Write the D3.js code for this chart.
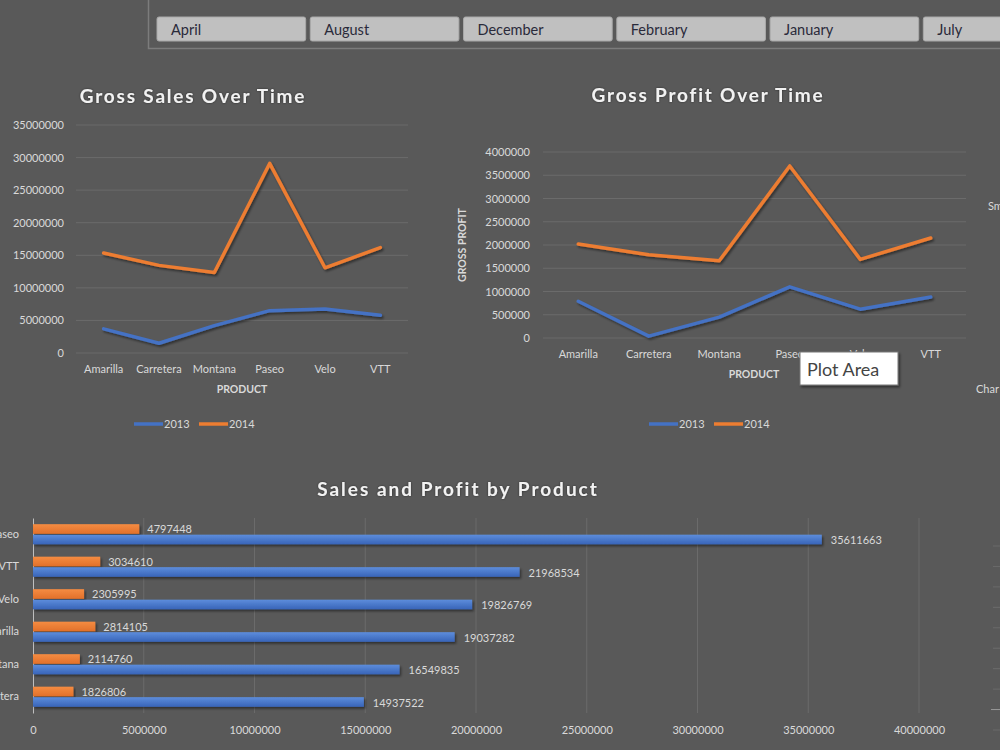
<!DOCTYPE html>
<html>
<head>
<meta charset="utf-8">
<script src="https://cdn.jsdelivr.net/npm/d3@7"></script>
<style>
  body { margin: 0; background: #595959; }
  #chart { width: 1000px; height: 750px; }
  text { font-family: Lato, "Open Sans", sans-serif; }
</style>
</head>
<body>
<div id="chart"></div>
<script>
// data
const products = ["Amarilla", "Carretera", "Montana", "Paseo", "Velo", "VTT"];
const years = ["2013", "2014"];
const sales2013 = [3700000, 1500000, 4200000, 6500000, 6750000, 5800000];
const sales2014 = [15350000, 13450000, 12350000, 29100000, 13080000, 16170000];
const profit2013 = [790000, 40000, 450000, 1100000, 620000, 880000];
const profit2014 = [2020000, 1790000, 1660000, 3700000, 1690000, 2150000];

const barProducts = ["Paseo", "VTT", "Velo", "Amarilla", "Montana", "Carretera"];
const barSales = [35611663, 21968534, 19826769, 19037282, 16549835, 14937522];
const barProfit = [4797448, 3034610, 2305995, 2814105, 2114760, 1826806];

const months = ["April", "August", "December", "February", "January", "July"];

const blue = "#4472c4";
const orange = "#ed7d31";
const labelColor = "#d9d9d9";
const gridColor = "#6b6b6b";

const svg = d3.select("#chart").append("svg")
  .attr("width", 1000).attr("height", 750);

const defs = svg.append("defs");
const shadow = defs.append("filter").attr("id", "shadow")
  .attr("x", "-5%").attr("y", "-30%").attr("width", "110%").attr("height", "180%");
shadow.append("feDropShadow").attr("dx", 1.5).attr("dy", 2).attr("stdDeviation", 1.2)
  .attr("flood-color", "#000").attr("flood-opacity", 0.45);
const glow = defs.append("filter").attr("id", "glow");
glow.append("feDropShadow").attr("dx", 0).attr("dy", 0).attr("stdDeviation", 1)
  .attr("flood-color", "#000").attr("flood-opacity", 0.5);
const grad = defs.append("linearGradient").attr("id", "blueGrad")
  .attr("x1", 0).attr("y1", 0).attr("x2", 0).attr("y2", 1);
grad.append("stop").attr("offset", "0%").attr("stop-color", "#5d8ddc");
grad.append("stop").attr("offset", "100%").attr("stop-color", "#3864b8");
const grad2 = defs.append("linearGradient").attr("id", "orangeGrad")
  .attr("x1", 0).attr("y1", 0).attr("x2", 0).attr("y2", 1);
grad2.append("stop").attr("offset", "0%").attr("stop-color", "#f58c42");
grad2.append("stop").attr("offset", "100%").attr("stop-color", "#e2702a");

// ---- slicer at the top
const slicer = svg.append("g");
slicer.append("path")
  .attr("d", "M148.5,0 V48.5 H1000")
  .attr("fill", "none").attr("stroke", "#7c7c7c").attr("stroke-width", 1.5);
const btnX = d3.scaleBand().domain(months).range([157, 157 + 6 * 152.5]).paddingInner(0.03);
months.forEach((m) => {
  const g = slicer.append("g").attr("transform", `translate(${btnX(m)},17)`);
  g.append("rect").attr("width", btnX.bandwidth()).attr("height", 24).attr("rx", 2)
    .attr("fill", "#c0c0c0").attr("stroke", "#a9a9a9");
  g.append("text").attr("x", 14).attr("y", 18)
    .attr("font-family", "'Liberation Sans', Arial, sans-serif")
    .attr("font-size", 14.5).attr("fill", "#2a2a3a").text(m);
});

// ---- line charts
function lineChart(cfg) {
  const g = svg.append("g");
  const x = d3.scaleBand().domain(products).range([cfg.left, cfg.right]);
  const y = d3.scaleLinear().domain([0, cfg.max]).range([cfg.bottom, cfg.top]);

  g.append("g").selectAll("line").data(y.ticks(cfg.tickCount)).join("line")
    .attr("x1", cfg.left).attr("x2", cfg.right)
    .attr("y1", (d) => y(d)).attr("y2", (d) => y(d))
    .attr("stroke", gridColor);

  const yAxis = g.append("g").attr("transform", `translate(${cfg.left},0)`)
    .call(d3.axisLeft(y).ticks(cfg.tickCount).tickSize(0).tickPadding(cfg.left - cfg.tickEnd).tickFormat(d3.format("d")));
  yAxis.select(".domain").remove();
  yAxis.selectAll("text").attr("fill", labelColor).attr("font-size", 11).attr("font-family", "Lato, sans-serif");

  const xAxis = g.append("g").attr("transform", `translate(0,${cfg.bottom})`)
    .call(d3.axisBottom(x).tickSize(0).tickPadding(cfg.catPad));
  xAxis.select(".domain").remove();
  xAxis.selectAll("text").attr("fill", labelColor).attr("font-size", 11).attr("font-family", "Lato, sans-serif");

  const line = d3.line().x((d, i) => x(products[i]) + x.bandwidth() / 2).y((d) => y(d));
  [[cfg.s2013, blue], [cfg.s2014, orange]].forEach(([vals, c]) => {
    g.append("path").datum(vals).attr("d", line)
      .attr("fill", "none").attr("stroke", c).attr("stroke-width", 3.5)
      .attr("stroke-linejoin", "round").attr("stroke-linecap", "round")
      .attr("filter", "url(#shadow)");
  });

  g.append("text").attr("x", cfg.titleX).attr("y", cfg.titleY).attr("text-anchor", "middle")
    .attr("font-size", 19).attr("font-weight", 700).attr("letter-spacing", 1.8)
    .attr("fill", "#f2f2f2").attr("filter", "url(#glow)").text(cfg.title);

  g.append("text").attr("x", cfg.prodX).attr("y", cfg.prodY).attr("text-anchor", "middle")
    .attr("font-size", 10.5).attr("font-weight", 700).attr("fill", labelColor).text("PRODUCT");

  if (cfg.yTitle) {
    g.append("text").attr("transform", `translate(${cfg.yTitleX},${cfg.yTitleY}) rotate(-90)`)
      .attr("text-anchor", "middle").attr("font-size", 10.5).attr("font-weight", 700)
      .attr("fill", labelColor).text(cfg.yTitle);
  }

  // legend
  const lg = g.append("g").attr("transform", `translate(${cfg.legendX},${cfg.legendY})`);
  years.forEach((yr, i) => {
    const c = i === 0 ? blue : orange;
    lg.append("line").attr("x1", i * 65).attr("x2", i * 65 + 29)
      .attr("stroke", c).attr("stroke-width", 3.5);
    lg.append("text").attr("x", i * 65 + 30).attr("y", 4).attr("font-size", 11)
      .attr("fill", labelColor).text(yr);
  });
}

lineChart({
  title: "Gross Sales Over Time", titleX: 193, titleY: 103,
  left: 76, right: 408, top: 125, bottom: 353, tickEnd: 64, catPad: 12,
  max: 35000000, tickCount: 7,
  s2013: sales2013, s2014: sales2014,
  prodX: 242, prodY: 393, legendX: 134, legendY: 424
});

lineChart({
  title: "Gross Profit Over Time", titleX: 708, titleY: 102,
  left: 543, right: 966, top: 152, bottom: 338, tickEnd: 530, catPad: 12,
  max: 4000000, tickCount: 8,
  s2013: profit2013, s2014: profit2014,
  prodX: 754, prodY: 378, legendX: 649, legendY: 424,
  yTitle: "GROSS PROFIT", yTitleX: 466, yTitleY: 245
});

// "Plot Area" hover tooltip
const tip = svg.append("g").attr("transform", "translate(800,352)");
tip.append("rect").attr("width", 98).attr("height", 33)
  .attr("fill", "#ffffff").attr("stroke", "#777").attr("filter", "url(#shadow)");
tip.append("text").attr("x", 7).attr("y", 23.5)
  .attr("font-family", "'Open Sans', 'Noto Sans', sans-serif")
  .attr("font-size", 18).attr("fill", "#444").text("Plot Area");

// ---- horizontal bar chart
const bx = d3.scaleLinear().domain([0, 40000000]).range([33, 919]);
const by = d3.scaleBand().domain(barProducts).range([518, 713]).paddingInner(0.38).paddingOuter(0.19);
const sub = d3.scaleBand().domain(["profit", "sales"]).range([0, by.bandwidth()]).paddingInner(0.08);
const bar = svg.append("g");

bar.append("g").selectAll("line").data(bx.ticks(8).filter((d) => d > 0)).join("line")
  .attr("x1", (d) => bx(d)).attr("x2", (d) => bx(d))
  .attr("y1", 518).attr("y2", 713).attr("stroke", gridColor);

const bxAxis = bar.append("g").attr("transform", "translate(0,713)")
  .call(d3.axisBottom(bx).ticks(8).tickSize(0).tickPadding(13).tickFormat(d3.format("d")));
bxAxis.select(".domain").remove();
bxAxis.selectAll("text").attr("fill", labelColor).attr("font-size", 11).attr("font-family", "Lato, sans-serif");

const byAxis = bar.append("g").attr("transform", "translate(33,0)")
  .call(d3.axisLeft(by).tickSize(0).tickPadding(14));
byAxis.select(".domain").attr("stroke", "#bfbfbf");
byAxis.selectAll("text").attr("fill", labelColor).attr("font-size", 11).attr("font-family", "Lato, sans-serif");

const rows = bar.append("g").selectAll("g").data(barProducts).join("g")
  .attr("transform", (d) => `translate(0,${by(d)})`);

rows.append("rect").attr("x", bx(0)).attr("y", sub("profit"))
  .attr("width", (d, i) => bx(barProfit[i]) - bx(0)).attr("height", sub.bandwidth())
  .attr("fill", "url(#orangeGrad)").attr("filter", "url(#shadow)");
rows.append("rect").attr("x", bx(0)).attr("y", sub("sales"))
  .attr("width", (d, i) => bx(barSales[i]) - bx(0)).attr("height", sub.bandwidth())
  .attr("fill", "url(#blueGrad)").attr("filter", "url(#shadow)");

rows.append("text").attr("x", (d, i) => bx(barProfit[i]) + 8)
  .attr("y", sub("profit") + sub.bandwidth() / 2 + 4)
  .attr("font-size", 11).attr("fill", labelColor).text((d, i) => barProfit[i]);
rows.append("text").attr("x", (d, i) => bx(barSales[i]) + 9)
  .attr("y", sub("sales") + sub.bandwidth() / 2 + 5)
  .attr("font-size", 11).attr("fill", labelColor).text((d, i) => barSales[i]);

bar.append("text").attr("x", 458).attr("y", 496).attr("text-anchor", "middle")
  .attr("font-size", 19).attr("font-weight", 700).attr("letter-spacing", 2)
  .attr("fill", "#f2f2f2").attr("filter", "url(#glow)").text("Sales and Profit by Product");

// ---- edges of neighbouring charts, cut off at the right side
const edge = svg.append("g");
edge.append("text").attr("x", 988).attr("y", 210).attr("font-size", 11).attr("fill", labelColor).text("Sm");
edge.append("text").attr("x", 976).attr("y", 393).attr("font-size", 11).attr("fill", labelColor).text("Char");
const edgeY = d3.scaleLinear().domain([0, 9]).range([730, 546]);
edge.selectAll("line").data(d3.range(10)).join("line")
  .attr("x1", (d) => (d === 1 ? 991 : 993)).attr("x2", 1000)
  .attr("y1", (d) => edgeY(d)).attr("y2", (d) => edgeY(d))
  .attr("stroke", (d) => (d === 1 ? "#9a9a9a" : gridColor));
</script>
</body>
</html>
